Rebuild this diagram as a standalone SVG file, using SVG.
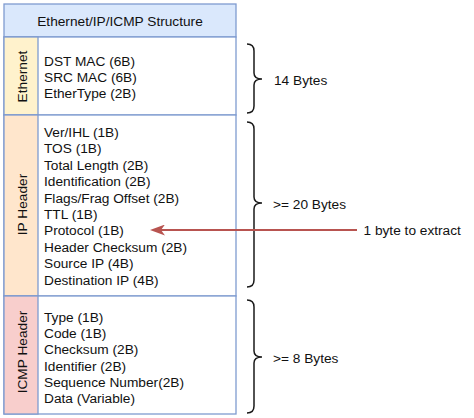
<svg xmlns="http://www.w3.org/2000/svg" width="474" height="418" viewBox="0 0 474 418">
<defs>
<style>
text{font-family:"Liberation Sans",Arial,sans-serif;font-size:13.7px;fill:#111111}
.box{stroke:#7f9bd0;stroke-width:1.3}
.brace{fill:none;stroke:#1a1a1a;stroke-width:1.5}
</style>
<marker id="ah" viewBox="0 0 15 11" refX="12" refY="5.5" markerWidth="15" markerHeight="11" markerUnits="userSpaceOnUse" orient="auto">
<path d="M0,0 L15,5.5 L0,11 L4,5.5 Z" fill="#b85450"/>
</marker>
</defs>
<rect width="474" height="418" fill="#ffffff"/>
<g id="title">
<rect class="box" x="4" y="4" width="232" height="33" fill="#dae8fc"/>
<text x="120" y="26.3" text-anchor="middle">Ethernet/IP/ICMP Structure</text>
</g>
<g id="ethernet">
<rect class="box" x="4" y="37" width="232" height="78" fill="#ffffff"/>
<rect class="box" x="4" y="37" width="34" height="78" fill="#fff2cc"/>
<text transform="translate(26.5,76.5) rotate(-90)" text-anchor="middle">Ethernet</text>
<text x="44" y="65.7">DST MAC (6B)</text>
<text x="44" y="81.9">SRC MAC (6B)</text>
<text x="44" y="98.1">EtherType (2B)</text>
</g>
<g id="ip">
<rect class="box" x="4" y="115" width="232" height="181" fill="#ffffff"/>
<rect class="box" x="4" y="115" width="34" height="181" fill="#ffe6cc"/>
<text transform="translate(26.5,204.5) rotate(-90)" text-anchor="middle">IP Header</text>
<text x="44" y="137">Ver/IHL (1B)</text>
<text x="44" y="153.4">TOS (1B)</text>
<text x="44" y="169.8">Total Length (2B)</text>
<text x="44" y="186.2">Identification (2B)</text>
<text x="44" y="202.6">Flags/Frag Offset (2B)</text>
<text x="44" y="219">TTL (1B)</text>
<text x="44" y="235.4">Protocol (1B)</text>
<text x="44" y="251.8">Header Checksum (2B)</text>
<text x="44" y="268.2">Source IP (4B)</text>
<text x="44" y="284.6">Destination IP (4B)</text>
</g>
<g id="icmp">
<rect class="box" x="4" y="296" width="232" height="118" fill="#ffffff"/>
<rect class="box" x="4" y="296" width="34" height="118" fill="#f8cecc"/>
<text transform="translate(26.5,352) rotate(-90)" text-anchor="middle">ICMP Header</text>
<text x="44" y="322.2">Type (1B)</text>
<text x="44" y="338.3">Code (1B)</text>
<text x="44" y="354.4">Checksum (2B)</text>
<text x="44" y="370.5">Identifier (2B)</text>
<text x="44" y="386.6">Sequence Number(2B)</text>
<text x="44" y="402.7">Data (Variable)</text>
</g>
<g id="brace-eth">
<path class="brace" d="M247,44 Q254,44 254,51 L254,73 Q254,79 262,79 Q254,79 254,85 L254,106 Q254,113 247,113"/>
<text x="274" y="85">14 Bytes</text>
</g>
<g id="brace-ip">
<path class="brace" d="M247,122 Q254,122 254,129 L254,197 Q254,203 262,203 Q254,203 254,209 L254,280 Q254,287 247,287"/>
<text x="273" y="209">&gt;= 20 Bytes</text>
</g>
<g id="brace-icmp">
<path class="brace" d="M247,300 Q254,300 254,307 L254,351 Q254,357 262,357 Q254,357 254,363 L254,406 Q254,413 247,413"/>
<text x="273" y="363">&gt;= 8 Bytes</text>
</g>
<g id="connectors">
<line x1="357" y1="230" x2="153" y2="230" stroke="#b85450" stroke-width="2" marker-end="url(#ah)"/>
</g>
<g id="extract-label">
<text x="363.5" y="235">1 byte to extract</text>
</g>
</svg>
